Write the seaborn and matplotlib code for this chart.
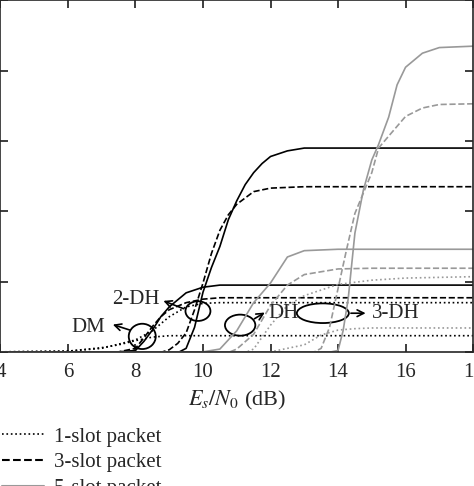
import numpy as np
import pandas as pd
import matplotlib
matplotlib.use("Agg")
import matplotlib.pyplot as plt
import seaborn as sns
from matplotlib.patches import Ellipse
from matplotlib.lines import Line2D

sns.set_theme(style="ticks")
plt.rcParams['font.family'] = ['Liberation Serif', 'DejaVu Serif']
plt.rcParams['mathtext.fontset'] = 'stix'

# curves
dm5_x = [4, 9.3, 9.5, 9.75, 10, 10.25, 10.5, 10.75, 11, 11.25, 11.5, 11.75, 12, 12.5, 13, 18]
dm5_y = [0, 0, 0.05, 0.35, 0.85, 1.2, 1.5, 1.88, 2.15, 2.38, 2.55, 2.68, 2.78, 2.86, 2.9, 2.9]
dm3_x = [4, 8.8, 9, 9.25, 9.5, 9.75, 10, 10.25, 10.5, 10.75, 11, 11.5, 12, 13, 18]
dm3_y = [0, 0, 0.03, 0.12, 0.27, 0.6, 0.98, 1.4, 1.73, 1.95, 2.1, 2.28, 2.33, 2.35, 2.35]
dh5_x = [4, 7.5, 8, 8.25, 8.5, 8.75, 9, 9.5, 10, 10.5, 18]
dh5_y = [0, 0, 0.02, 0.15, 0.31, 0.5, 0.64, 0.84, 0.92, 0.95, 0.95]
dh3_x = [4, 7.5, 8, 8.25, 8.5, 8.75, 9, 9.5, 10, 10.5, 18]
dh3_y = [0, 0, 0.05, 0.2, 0.36, 0.5, 0.6, 0.7, 0.75, 0.77, 0.77]
dot_a_x = [4, 6, 7, 8, 8.5, 9, 9.5, 10, 10.5, 18]
dot_a_y = [0, 0.01, 0.05, 0.17, 0.3, 0.5, 0.64, 0.69, 0.7, 0.7]
dot_b_x = [4, 6, 7, 7.5, 8, 8.5, 9, 9.5, 18]
dot_b_y = [0, 0.01, 0.06, 0.1, 0.16, 0.21, 0.23, 0.23, 0.23]

g5h_x = [4, 13.8, 14, 14.15, 14.3, 14.5, 14.75, 15, 15.2, 15.5, 15.75, 16, 16.5, 17, 18]
g5h_y = [0, 0, 0.02, 0.3, 0.75, 1.69, 2.3, 2.73, 2.95, 3.34, 3.8, 4.05, 4.25, 4.33, 4.35]
g3h_x = [4, 13.3, 13.5, 13.75, 14, 14.25, 14.5, 15, 15.2, 15.5, 16, 16.5, 17, 18]
g3h_y = [0, 0, 0.05, 0.35, 0.9, 1.45, 1.97, 2.55, 2.9, 3.07, 3.35, 3.47, 3.52, 3.53]
g5l_x = [4, 10, 10.5, 11, 11.5, 12, 12.5, 13, 14, 18]
g5l_y = [0, 0, 0.04, 0.3, 0.7, 0.98, 1.35, 1.44, 1.46, 1.46]
g3l_x = [4, 10.8, 11, 11.5, 12, 12.5, 13, 14, 15, 18]
g3l_y = [0, 0, 0.04, 0.25, 0.66, 0.95, 1.1, 1.18, 1.19, 1.19]
g1a_x = [4, 11.3, 11.5, 12, 12.5, 13, 14, 15, 16, 18]
g1a_y = [0, 0, 0.04, 0.38, 0.66, 0.8, 0.96, 1.02, 1.05, 1.07]
g1b_x = [4, 12, 13, 13.5, 14, 14.5, 15, 18]
g1b_y = [0, 0, 0.1, 0.24, 0.31, 0.33, 0.34, 0.34]

curves = [
    (dm5_x, dm5_y, 'black', '-'), (dm3_x, dm3_y, 'black', '--'),
    (dh5_x, dh5_y, 'black', '-'), (dh3_x, dh3_y, 'black', '--'),
    (dot_a_x, dot_a_y, 'black', ':'), (dot_b_x, dot_b_y, 'black', ':'),
    (g5h_x, g5h_y, '#999999', '-'), (g3h_x, g3h_y, '#999999', '--'),
    (g5l_x, g5l_y, '#999999', '-'), (g3l_x, g3l_y, '#999999', '--'),
    (g1a_x, g1a_y, '#999999', ':'), (g1b_x, g1b_y, '#999999', ':'),
]

fig = plt.figure(figsize=(4.74, 4.86), dpi=100)
ax = fig.add_axes([0.001, 0.276, 0.997, 0.723])
for x, y, c, ls in curves:
    sns.lineplot(x=x, y=y, ax=ax, color=c, linestyle=ls, linewidth=1.2)

ax.set_xlim(4, 18)
ax.set_ylim(0, 5)
ax.set_xticks([4, 6, 8, 10, 12, 14, 16, 18])
ax.set_xticklabels(['4', '6', '8', '10', '12', '14', '16', '18'])
ax.set_yticks([0, 1, 2, 3, 4, 5])
ax.tick_params(direction='in', top=True, right=True, labelleft=False,
               labelsize=15, length=6, pad=8)
for s in ax.spines.values():
    s.set_linewidth(1.2)
ax.set_xlabel('$E_s/N_0$ (dB)', fontsize=16, labelpad=5)

# annotations
ell = [(9.85, 0.58, 0.74, 0.28), (8.2, 0.22, 0.8, 0.36),
       (11.1, 0.38, 0.9, 0.3), (13.55, 0.55, 1.54, 0.28)]
for ex, ey, w, h in ell:
    ax.add_patch(Ellipse((ex, ey), w, h, fill=False, color='black', lw=1.3))
arr = dict(arrowstyle='->', color='black', lw=1.2)
ax.annotate('', xy=(8.75, 0.74), xytext=(9.5, 0.6), arrowprops=arr)
ax.text(8.7, 0.74, '2-DH', ha='right', va='center', fontsize=15)
ax.annotate('', xy=(7.25, 0.4), xytext=(7.9, 0.3), arrowprops=arr)
ax.text(7.1, 0.34, 'DM', ha='right', va='center', fontsize=15)
ax.annotate('', xy=(11.9, 0.58), xytext=(11.45, 0.45), arrowprops=arr)
ax.text(11.95, 0.55, 'DH', ha='left', va='center', fontsize=15)
ax.annotate('', xy=(14.9, 0.55), xytext=(14.3, 0.55), arrowprops=arr)
ax.text(15.0, 0.55, '3-DH', ha='left', va='center', fontsize=15)

handles = [Line2D([], [], color='black', ls=':', lw=1.2),
           Line2D([], [], color='black', ls='--', lw=1.5),
           Line2D([], [], color='#999999', ls='-', lw=1.5)]
fig.legend(handles, ['1-slot packet', '3-slot packet', '5-slot packet'],
           loc='upper left', bbox_to_anchor=(-0.035, 0.16), frameon=False,
           fontsize=15, handlelength=2.0, labelspacing=0.3, handletextpad=0.5)

fig.savefig('out.png', dpi=100)
